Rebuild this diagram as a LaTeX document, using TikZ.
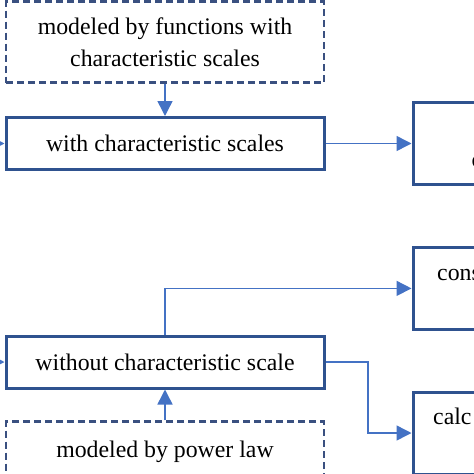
\documentclass[tikz,border=0pt]{standalone}
\usepackage{fontspec}
\setmainfont{Liberation Serif}
\usetikzlibrary{arrows.meta}
\definecolor{boxblue}{HTML}{2F528F}
\definecolor{dashblue}{HTML}{3A5080}
\definecolor{linkblue}{HTML}{4472C4}
\begin{document}
\begin{tikzpicture}[x=1pt,y=-1pt,
  font=\fontsize{23.8}{32}\selectfont,
  solidbox/.style={draw=boxblue, line width=3pt, minimum width=318pt, minimum height=82pt, inner sep=0pt},
  dashbox/.style={draw=dashblue, line width=2.5pt, dash pattern=on 7pt off 4pt, minimum width=318pt, minimum height=81pt, inner sep=0pt, align=center},
  label/.style={inner sep=0pt},
  link/.style={draw=linkblue, line width=1.5pt, -{Triangle[length=15pt,width=15pt]}}]
\useasboundingbox (0,0) rectangle (474,474);
\clip (0,0) rectangle (474,474);
% top branch
\node[dashbox] (d1) at (165,42) {modeled by functions with\\characteristic scales};
\node[solidbox, minimum height=52pt] (b1) at (165,143.5) {with characteristic scales};
\node[solidbox, minimum width=200pt, anchor=west] (r1) at (411.5,143.3) {};
\node[label, anchor=base west] (t1) at (471.5,167) {c};
% bottom branch
\node[solidbox, minimum height=52pt] (b2) at (165,362) {without characteristic scale};
\node[solidbox, minimum width=200pt, anchor=west] (r2) at (411.5,288.4) {};
\node[label, anchor=base west] (t2) at (437,280) {cons};
\node[solidbox, minimum width=200pt, anchor=west] (r3) at (411.5,433) {};
\node[label, anchor=base west] (t3) at (433,424) {calc};
\node[dashbox, anchor=north] (d2) at (165,420.4) {};
\node[label, anchor=base] (t4) at (165,457) {modeled by power law};
% incoming from outside
\coordinate (inA) at (-80,143.5);
\coordinate (inB) at (-80,362);
\coordinate (j) at (368,400);
% connectors
\draw[link] (inA) -- (b1.west);
\draw[link] (inB) -- (b2.west);
\draw[link] (d1.south) -- (b1.north);
\draw[link] (b1.east) -- (b1.east -| r1.west);
\draw[link] (b2.north) |- (r2.west);
\draw[link] (b2.east) -| (j) |- (r3.west);
\draw[link] (d2.north) -- (b2.south);
\end{tikzpicture}
\end{document}
